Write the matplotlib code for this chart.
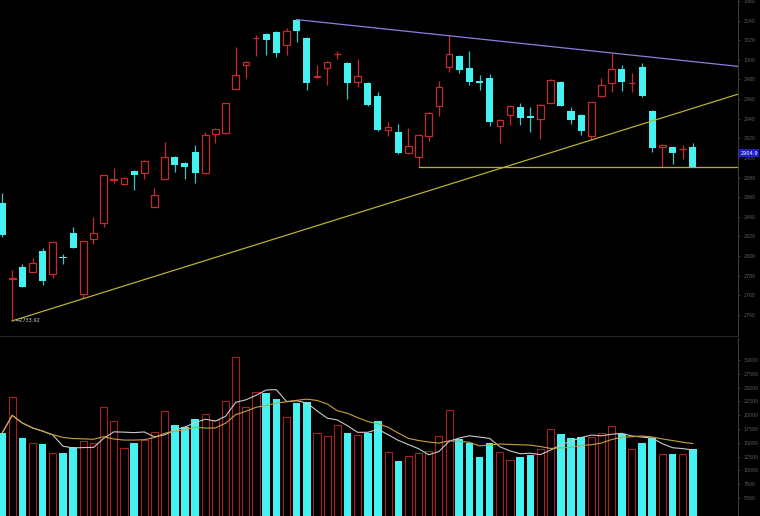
import numpy as np
import matplotlib
matplotlib.use('agg')
import matplotlib.pyplot as plt
import matplotlib.transforms as mtransforms

# daily candles (oldest -> newest)
opens = [2854.1, 2777.0, 2788.8, 2783.7, 2805.1, 2781.7, 2798.6, 2823.5, 2761.3, 2817.4,
         2833.7, 2878.0, 2873.4, 2886.7, 2884.6, 2850.0, 2878.5, 2901.0, 2894.8, 2906.1,
         2884.6, 2924.4, 2925.4, 2970.3, 2994.7, 3021.8, 3026.3, 3028.4, 3015.1, 3040.6,
         3022.3, 2983.0, 2991.7, 3005.5, 2996.8, 2977.4, 2976.4, 2963.1, 2928.5, 2926.4,
         2905.0, 2901.0, 2922.4, 2952.9, 2992.7, 3003.9, 2991.7, 2978.4, 2981.5, 2932.6,
         2943.8, 2951.9, 2942.8, 2939.7, 2956.5, 2977.4, 2947.9, 2943.8, 2922.4, 2963.1,
         2976.4, 2990.7, 2976.0, 2992.7, 2947.9, 2911.2, 2911.2, 2908.7, 2911.2]
highs = [2864.3, 2785.8, 2791.9, 2798.0, 2808.2, 2814.3, 2802.1, 2829.6, 2815.3, 2839.8,
         2882.6, 2889.7, 2880.5, 2887.5, 2897.5, 2869.4, 2916.2, 2901.5, 2895.5, 2913.2,
         2926.4, 2931.0, 2956.5, 3013.1, 2998.5, 3025.3, 3027.0, 3029.0, 3032.5, 3041.0,
         3023.0, 2994.7, 2998.5, 3009.0, 2997.5, 3000.9, 2977.0, 2967.2, 2936.6, 2934.6,
         2930.5, 2924.0, 2946.5, 2978.4, 3025.3, 3004.5, 3009.0, 2984.5, 2985.6, 2939.5,
         2953.5, 2956.0, 2951.9, 2954.5, 2980.0, 2978.0, 2951.9, 2944.5, 2957.5, 2981.5,
         3007.0, 2994.7, 2986.6, 2996.8, 2948.5, 2913.8, 2912.0, 2913.2, 2915.2]
lows = [2819.0, 2733.92, 2768.4, 2783.7, 2770.5, 2777.6, 2791.9, 2808.2, 2757.2, 2812.3,
        2829.6, 2874.5, 2872.5, 2867.3, 2878.5, 2850.0, 2878.5, 2885.7, 2879.0, 2874.5,
        2883.5, 2915.2, 2924.5, 2970.3, 2981.5, 3003.9, 3004.9, 3002.9, 3004.9, 3018.2,
        2969.3, 2981.5, 2974.4, 3000.9, 2960.1, 2972.3, 2953.0, 2927.5, 2922.4, 2904.0,
        2904.5, 2890.8, 2917.3, 2942.8, 2987.6, 2986.6, 2974.4, 2969.3, 2932.6, 2915.2,
        2933.6, 2933.6, 2926.4, 2919.3, 2956.0, 2952.5, 2934.6, 2923.4, 2918.3, 2962.5,
        2967.2, 2968.2, 2967.2, 2962.5, 2906.1, 2890.8, 2893.8, 2898.9, 2890.8]
closes = [2821.4, 2777.6, 2768.4, 2792.9, 2774.6, 2814.3, 2797.5, 2808.2, 2815.3, 2823.5,
          2882.6, 2878.6, 2879.6, 2882.6, 2896.9, 2862.2, 2901.0, 2892.8, 2890.8, 2884.6,
          2923.4, 2929.5, 2956.0, 2984.5, 2997.8, 3022.5, 3020.2, 3007.0, 3029.4, 3029.4,
          2976.4, 2983.8, 2997.8, 3006.2, 2976.4, 2983.5, 2954.0, 2928.5, 2931.5, 2905.0,
          2912.2, 2923.4, 2945.8, 2972.3, 3006.0, 2989.6, 2977.4, 2976.4, 2936.6, 2938.7,
          2952.9, 2940.7, 2940.7, 2954.0, 2979.4, 2953.0, 2938.7, 2927.5, 2957.0, 2974.4,
          2990.7, 2977.4, 2976.8, 2963.1, 2910.1, 2913.2, 2905.0, 2909.4, 2890.8]
volumes = [16718, 23241, 15812, 15015, 14779, 13203, 13082, 14290, 15323, 14906,
           21429, 19001, 14000, 14906, 15504, 17010, 20813, 18222, 17806, 19309,
           20215, 19128, 22571, 30489, 21538, 24256, 23966, 22933, 19726, 22154,
           22335, 16827, 16283, 18167, 16827, 16410, 16827, 19001, 13275, 11699,
           12605, 13082, 13511, 16229, 20940, 15631, 15015, 12369, 15015, 13384,
           11880, 12478, 12786, 13807, 17444, 16591, 15812, 16102, 16102, 16718,
           18041, 16591, 13807, 15015, 15812, 12967, 12967, 12967, 13819]

price_ticks = list(range(2740, 3061, 20))
vol_ticks = list(range(5000, 30001, 2500))
last_price = 2904.9

RED = '#c62a2f'
CYAN = '#44f2f2'
GRID = '#3c3c3c'

o = np.array(opens); h = np.array(highs); l = np.array(lows); c = np.array(closes)
v = np.array(volumes)
x = np.arange(len(o))
up = c >= o
blo = np.minimum(o, c)
bhi = np.maximum(o, c)
bh = np.maximum(bhi - blo, 0.9)
xlim = (-0.2, 72.44)

fig = plt.figure(figsize=(7.6, 5.16), dpi=100, facecolor='black')
ax = fig.add_axes([0, 180 / 516, 738 / 760, 336 / 516], facecolor='black')
axv = fig.add_axes([0, 0, 738 / 760, 178 / 516], facecolor='black')

# candles
ax.vlines(x[up], bhi[up], h[up], color=RED, lw=0.9, zorder=2)
ax.vlines(x[up], l[up], blo[up], color=RED, lw=0.9, zorder=2)
ax.vlines(x[~up], l[~up], h[~up], color='#30c8c8', lw=0.9, zorder=2)
ax.bar(x[up], bh[up], bottom=blo[up], width=0.66, facecolor='black',
       edgecolor=RED, linewidth=0.9, zorder=3)
ax.bar(x[~up], bh[~up], bottom=blo[~up], width=0.7, color=CYAN, zorder=3)

# trend lines through the swing points
i_top, i_top2 = 29, 60
slope = (h[i_top2] - h[i_top]) / (i_top2 - i_top)
xs = np.array([i_top, xlim[1]])
ax.plot(xs, h[i_top] + slope * (xs - i_top), color='#8a7fe0', lw=0.9, zorder=4)

i_low, i_low2 = 1, 58
slope = (l[i_low2] - l[i_low]) / (i_low2 - i_low)
xs = np.array([i_low, xlim[1]])
ax.plot(xs, l[i_low] + slope * (xs - i_low), color='#b8b030', lw=0.9, zorder=4)

ax.plot([41, xlim[1]], [l[41], l[41]], color='#b8b030', lw=0.9, zorder=4)

ax.text(1.35, l[1], '\u2190' + f'{l[1]:.2f}', color='#c8c8c8', fontsize=3.6,
        va='center', ha='left', zorder=5)

trans = mtransforms.blended_transform_factory(ax.transAxes, ax.transData)
ax.text(1.003, last_price, f'{last_price}', transform=trans, color='white',
        fontsize=3.6, va='center', ha='left', clip_on=False,
        bbox=dict(boxstyle='square,pad=0.3', fc='#1e1ed0', ec='none'))

ax.set_xlim(*xlim)
ax.set_ylim(2718.5, 3061.0)
ax.set_yticks(price_ticks)

# volume
axv.bar(x[up], v[up], width=0.7, facecolor='black', edgecolor='#a81e22',
        linewidth=0.8, zorder=2)
axv.bar(x[~up], v[~up], width=0.74, color=CYAN, zorder=2)
ma5 = np.array([v[max(0, i - 4):i + 1].mean() for i in x])
ma10 = np.array([v[max(0, i - 9):i + 1].mean() for i in x])
axv.plot(x, ma5, color='#c8c8c8', lw=0.8, zorder=3)
axv.plot(x, ma10, color='#c8a040', lw=0.8, zorder=3)
axv.set_xlim(*xlim)
axv.set_ylim(1740, 33990)
axv.set_yticks(vol_ticks)

for a in (ax, axv):
    a.yaxis.tick_right()
    a.set_xticks([])
    a.tick_params(axis='y', colors=GRID, labelcolor='#606060', labelsize=3.4,
                  length=1.5, width=0.6, pad=2.5)
    for s in ('left', 'top'):
        a.spines[s].set_visible(False)
    a.spines['right'].set_color(GRID)
    a.spines['right'].set_linewidth(0.8)
ax.spines['bottom'].set_color('#262626')
axv.spines['bottom'].set_visible(False)

plt.savefig('out.png', dpi=100, facecolor='black')
